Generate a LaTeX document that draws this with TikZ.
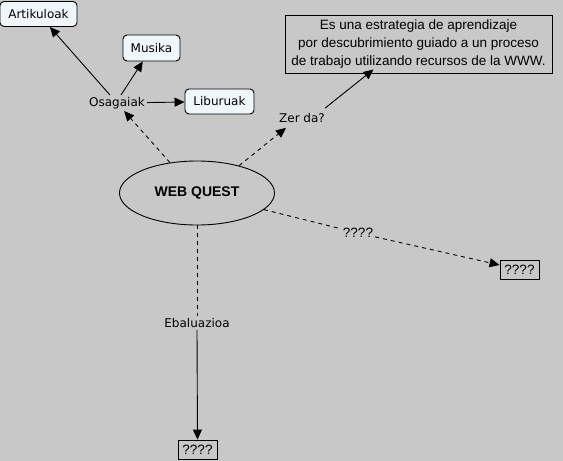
\documentclass[tikz,border=0pt]{standalone}
\usepackage{fontspec}
\setmainfont{DejaVu Sans}
\newfontfamily\arialf{Liberation Sans}
\usetikzlibrary{arrows.meta,shapes.geometric}
\definecolor{bggray}{RGB}{200,200,200}
\definecolor{boxfill}{RGB}{240,247,250}
\tikzset{
  concept/.style={draw=black, line width=0.9pt, rounded corners=4pt, fill=boxfill, inner sep=0pt, minimum height=25pt, font=\fontsize{12}{14}\selectfont},
  plainbox/.style={draw=black, line width=0.9pt, fill=bggray, inner sep=0pt, font=\arialf\fontsize{13.5}{16}\selectfont},
  lbl/.style={inner sep=2pt, font=\fontsize{12}{14}\selectfont},
  arr/.style={line width=0.9pt, -{Triangle[length=10pt,width=9pt]}},
  dashline/.style={line width=0.9pt, dash pattern=on 4pt off 4pt},
}
\begin{document}
\begin{tikzpicture}[x=1pt,y=-1pt]
\fill[bggray] (0,0) rectangle (563,461);
\useasboundingbox (0,0) rectangle (563,461);

\node[draw=black, line width=0.9pt, ellipse, minimum width=155pt, minimum height=64pt, inner sep=0pt, font=\arialf\bfseries\fontsize{14}{16}\selectfont] (wq) at (197,193) {WEB QUEST};

\node[concept, minimum width=77pt] (art) at (38.5,14) {Artikuloak};
\node[concept, minimum width=57pt, minimum height=26pt] (mus) at (151.5,48) {Musika};
\node[concept, minimum width=69pt] (lib) at (219.5,101.5) {Liburuak};
\node[lbl] (osag) at (117,103) {Osagaiak};

\node[plainbox, minimum width=267pt, minimum height=58pt, align=center, font=\arialf\fontsize{13.5}{18}\selectfont] (def) at (418.5,44) {Es una estrategia de aprendizaje\\ por descubrimiento guiado a un proceso\\de trabajo utilizando recursos de la WWW.};
\node[lbl] (zer) at (302,118) {Zer da?};

\node[lbl, font=\arialf\fontsize{13.5}{16}\selectfont] (q1) at (358,233) {????};
\node[plainbox, minimum width=39pt, minimum height=19pt] (q2) at (519.5,269.5) {????};

\node[lbl] (ebal) at (197,323) {Ebaluazioa};
\node[plainbox, minimum width=39pt, minimum height=19pt] (q3) at (197.5,449.5) {????};

% dashed links from WEB QUEST
\draw[dashline, arr] (wq) -- (osag);
\draw[dashline, arr] (wq.33) -- ([xshift=9pt,yshift=-3pt]zer.south west);
\draw[dashline] (wq) -- (q1);
\draw[dashline, arr] (q1) -- (q2);
\draw[dashline] (wq.south) -- (ebal.north);

% solid links
\draw[arr] (osag) -- (art);
\draw[arr] ([xshift=4pt]osag.north) -- (mus);
\draw[arr] (osag) -- (lib);
\draw[arr] ([xshift=-2pt,yshift=3pt]zer.north east) -- ([xshift=-45pt,yshift=4pt]def.south);
\draw[arr] (ebal.south) -- (q3.north);
\end{tikzpicture}
\end{document}
